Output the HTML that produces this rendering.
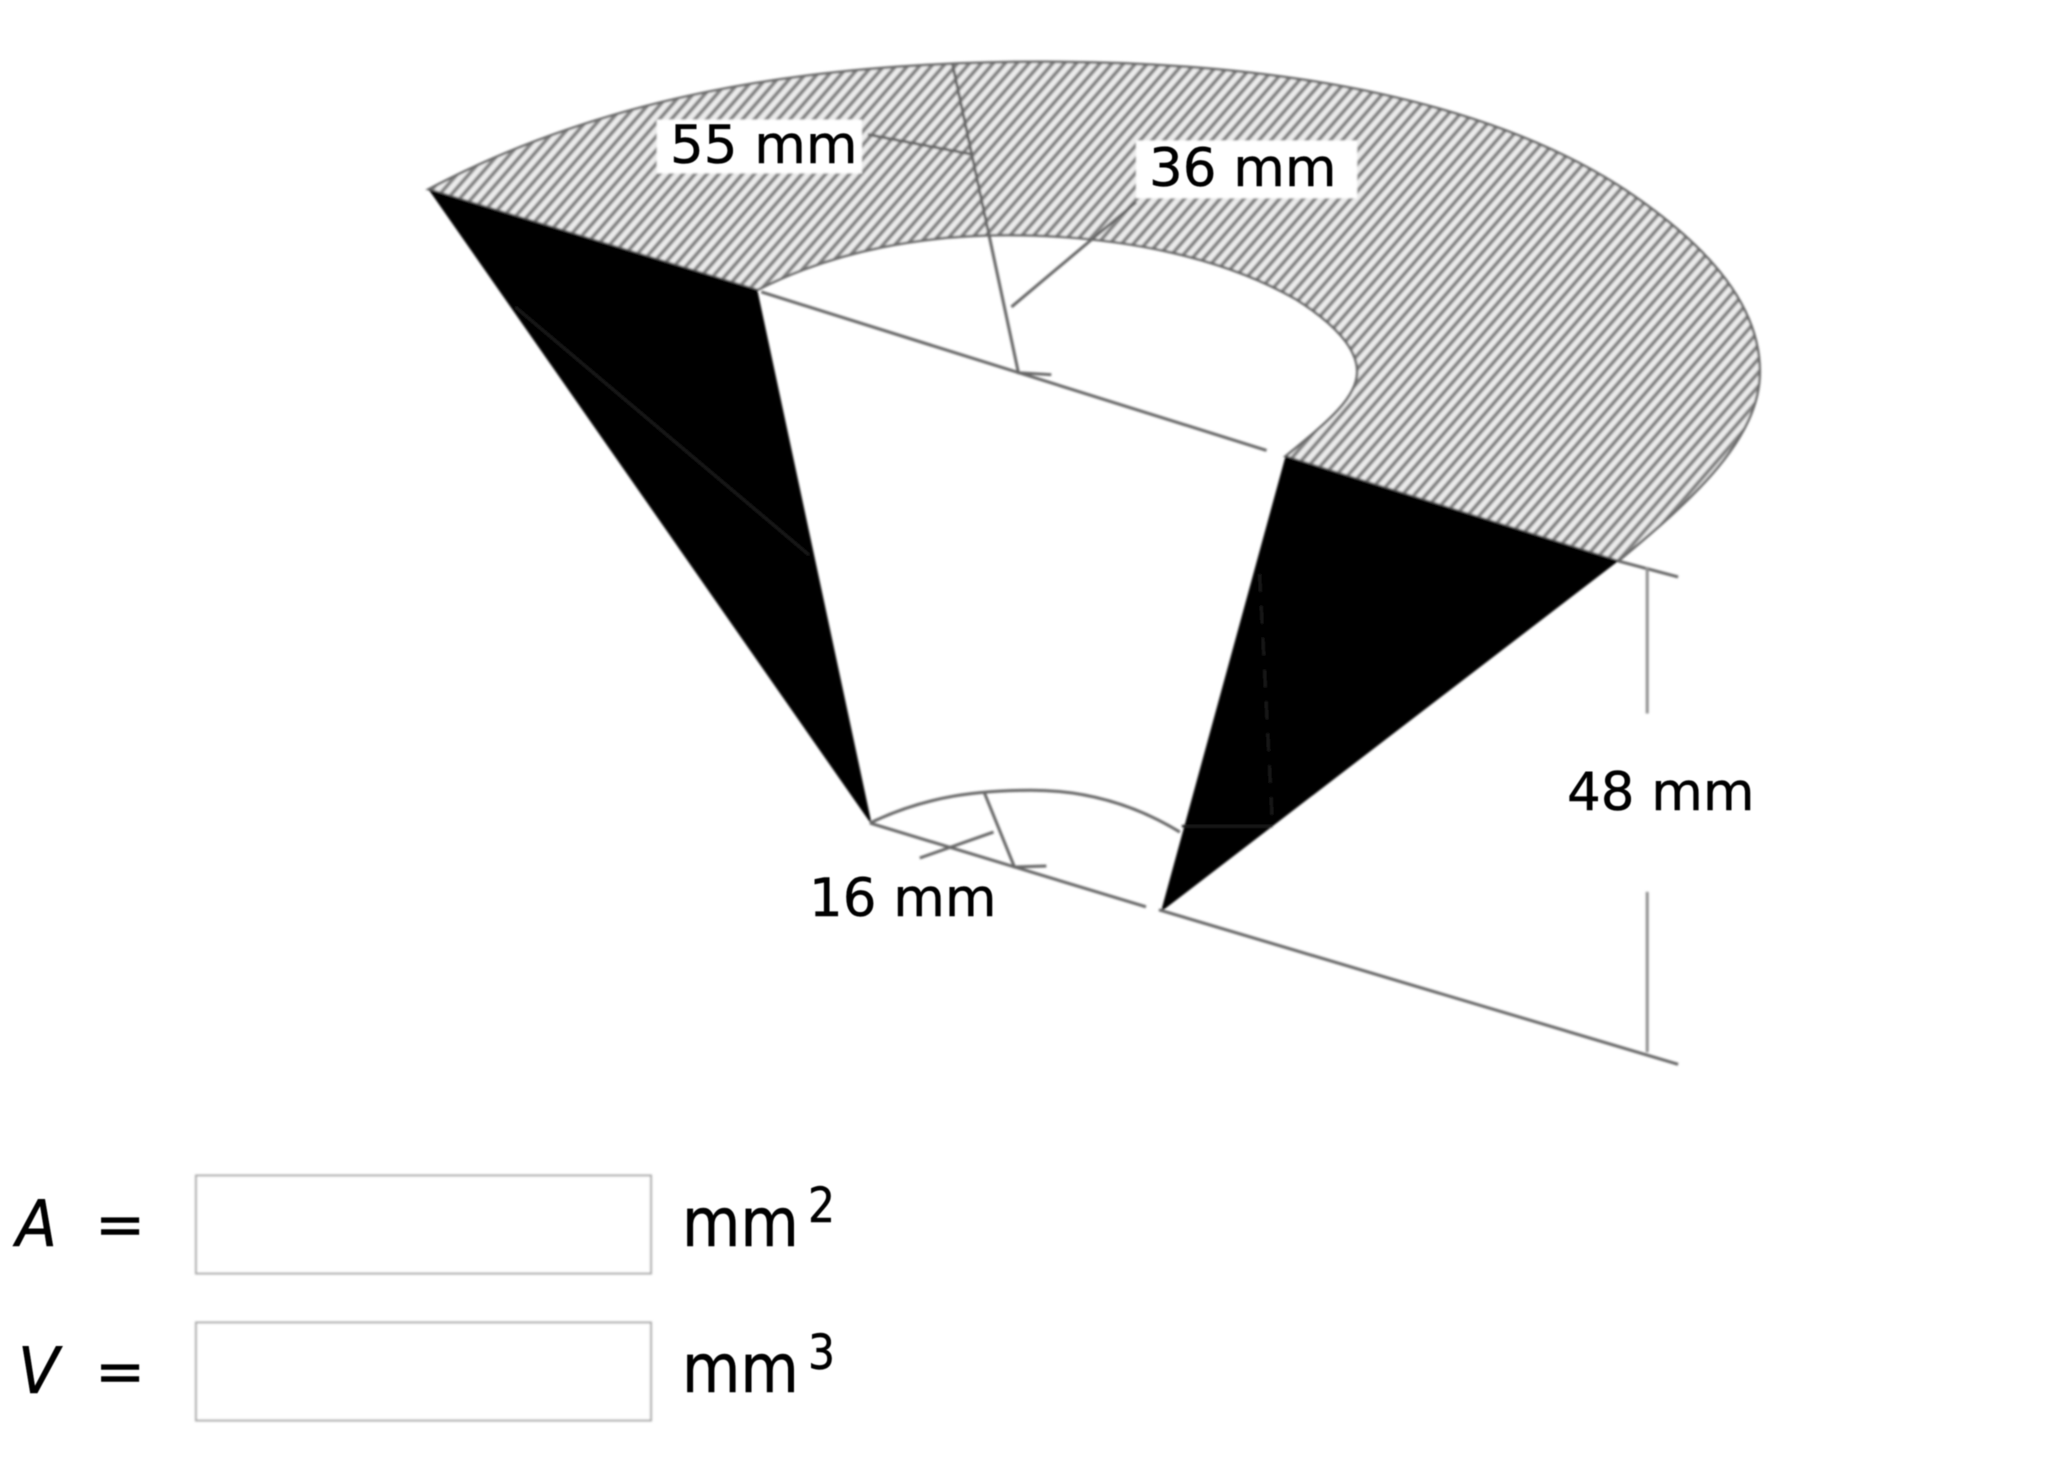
<!DOCTYPE html>
<html>
<head>
<meta charset="utf-8">
<style>
html,body{margin:0;padding:0;background:#fff;width:2046px;height:1479px;overflow:hidden}
svg{display:block;position:absolute;left:0;top:0}
text{font-family:"DejaVu Sans","Liberation Sans",sans-serif;fill:#000;stroke:#000;stroke-width:.5}
</style>
</head>
<body>
<svg width="2046" height="1479" viewBox="0 0 2046 1479" xmlns="http://www.w3.org/2000/svg">
<defs>
<pattern id="h" patternUnits="userSpaceOnUse" width="9" height="9" patternTransform="rotate(41)">
<rect width="9" height="9" fill="#ebebeb"/>
<rect width="3.800" height="9" fill="#838383"/>
</pattern>
<filter id="b" x="-5%" y="-5%" width="110%" height="110%"><feGaussianBlur stdDeviation="1"/></filter>
<filter id="t" x="-5%" y="-5%" width="110%" height="110%"><feGaussianBlur stdDeviation="0.6"/></filter>
</defs>
<g filter="url(#b)">
<g transform="scale(0.9965)">
<path d="M430,190 C600,100 800,62 1048,62 C1300,62 1500,105 1630,190 C1720,250 1766,310 1766,373 C1766,440 1700,500 1624,563 L1290,458 C1330,425 1362,400 1362,373 C1362,350 1340,325 1300,300 C1230,260 1130,236 1010,236 C930,236 840,250 760,291 Z" fill="url(#h)" stroke="#666" stroke-width="2.5"/>
<polygon points="430,190 760,291 875,828" fill="#000"/>
<polygon points="1290,458 1624,563 1165,915" fill="#000"/>
<g fill="none" stroke="#666" stroke-width="3">
<path d="M764,293 L1271,452"/>
<path d="M956,65 L1022,374 L1055,376"/>
<path d="M871,135 L976,155"/>
<path d="M1140,203 L1015,308"/>
<path d="M873,826 C930,798 985,793 1035,793 C1090,793 1140,808 1184,835"/>
<path d="M873,826 L1150,910"/>
<path d="M1163,913 L1684,1068"/>
<path d="M988,796 L1018,870 L1050,869"/>
<path d="M997,835 L923,861"/>
<path d="M1624,563 L1684,579"/>
</g>
<g fill="none" stroke="#909090" stroke-width="3">
<path d="M1653,569 L1653,716"/>
<path d="M1653,895 L1653,1056"/>
</g>
<g fill="none" stroke="#1e1e1e" stroke-width="2.5">
<path d="M517,308 L812,557"/>
<path d="M1186,829 L1277,829"/>
<path d="M1264,576 L1277,829" stroke-dasharray="18 14"/>
</g>
<rect x="659" y="120" width="206" height="54" fill="#fff"/>
<rect x="1140" y="141" width="222" height="58" fill="#fff"/>
</g>
<rect x="196" y="1175.500" width="455" height="98" fill="#fff" stroke="#aaa" stroke-width="2"/>
<rect x="196" y="1322.500" width="455" height="98" fill="#fff" stroke="#aaa" stroke-width="2"/>
</g>
<g filter="url(#t)">
<text x="670" y="163" font-size="53">55 mm</text>
<text x="1149" y="186" font-size="53">36 mm</text>
<text x="809" y="916" font-size="53">16 mm</text>
<text x="1567" y="810" font-size="53">48 mm</text>
<text x="16" y="1246" font-size="60" font-style="italic" transform="translate(16,1246) scale(1,1.07) translate(-16,-1246)">A</text>
<text x="18" y="1393" font-size="60" font-style="italic" transform="translate(18,1393) scale(1,1.07) translate(-18,-1393)">V</text>
<text x="95" y="1245" font-size="60">=</text>
<text x="95" y="1392" font-size="60">=</text>
<text x="682" y="1246" font-size="60" transform="translate(682,1246) scale(1,1.13) translate(-682,-1246)">mm</text>
<text x="682" y="1392" font-size="60" transform="translate(682,1392) scale(1,1.13) translate(-682,-1392)">mm</text>
<text x="808" y="1222" font-size="48" textLength="27" lengthAdjust="spacingAndGlyphs">2</text>
<text x="808" y="1369" font-size="48" textLength="27" lengthAdjust="spacingAndGlyphs">3</text>
</g>
</svg>
</body>
</html>
